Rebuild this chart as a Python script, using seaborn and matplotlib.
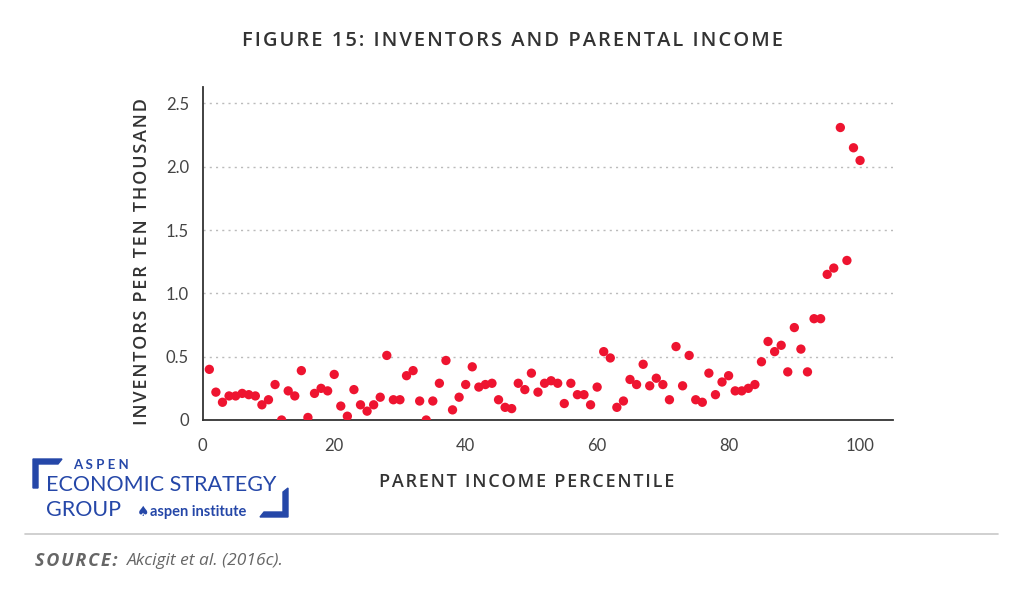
import numpy as np
import pandas as pd
import matplotlib.pyplot as plt
from matplotlib.patches import Polygon
import seaborn as sns

# parent income percentile and inventors per ten thousand
percentile = list(range(1, 101))
inventors = [
    0.40, 0.22, 0.14, 0.19, 0.19, 0.21, 0.20, 0.19, 0.12, 0.16,
    0.28, 0.00, 0.23, 0.19, 0.39, 0.02, 0.21, 0.25, 0.23, 0.36,
    0.11, 0.03, 0.24, 0.12, 0.07, 0.12, 0.18, 0.51, 0.16, 0.16,
    0.35, 0.39, 0.15, 0.00, 0.15, 0.29, 0.47, 0.08, 0.18, 0.28,
    0.42, 0.26, 0.28, 0.29, 0.16, 0.10, 0.09, 0.29, 0.24, 0.37,
    0.22, 0.29, 0.31, 0.29, 0.13, 0.29, 0.20, 0.20, 0.12, 0.26,
    0.54, 0.49, 0.10, 0.15, 0.32, 0.28, 0.44, 0.27, 0.33, 0.28,
    0.16, 0.58, 0.27, 0.51, 0.16, 0.14, 0.37, 0.20, 0.30, 0.35,
    0.23, 0.23, 0.25, 0.28, 0.46, 0.62, 0.54, 0.59, 0.38, 0.73,
    0.56, 0.38, 0.80, 0.80, 1.15, 1.20, 2.31, 1.26, 2.15, 2.05,
]
x_ticks = [0, 20, 40, 60, 80, 100]
y_ticks = [0, 0.5, 1.0, 1.5, 2.0, 2.5]
y_tick_labels = ['0', '0.5', '1.0', '1.5', '2.0', '2.5']

df = pd.DataFrame({'percentile': percentile, 'inventors': inventors})

sns.set_style("white")
plt.rcParams['font.family'] = ['Lato', 'DejaVu Sans']

blue = '#2547a8'
dark = '#333333'
head = ['Open Sans', 'DejaVu Sans']


def spaced(s, sp='\u200a'):
    # fake letter spacing with hair spaces
    return sp.join(s)


fig = plt.figure(figsize=(10.24, 6), dpi=100)
ax = fig.add_axes([0.198, 0.30, 0.674, 0.555])

ax.grid(axis='y', color='#bbbbbb', linestyle=(0, (1.5, 3)), linewidth=1)
sns.scatterplot(data=df, x='percentile', y='inventors', ax=ax,
                color='#ee1430', s=45, edgecolor='none', zorder=3)

ax.set_xlim(0, 105)
ax.set_ylim(0, 2.63)
ax.set_xticks(x_ticks)
ax.set_yticks(y_ticks)
ax.set_yticklabels(y_tick_labels)
ax.tick_params(axis='x', direction='out', length=7, width=1.3, color=dark,
               labelsize=12, labelcolor='#444444', pad=6)
ax.tick_params(axis='y', direction='in', length=10, width=1.3, color=dark,
               labelsize=12, labelcolor='#444444', pad=10)
for s in ['top', 'right']:
    ax.spines[s].set_visible(False)
for s in ['left', 'bottom']:
    ax.spines[s].set_color(dark)
    ax.spines[s].set_linewidth(1.3)

ax.set_xlabel(spaced('PARENT INCOME PERCENTILE'), fontsize=13,
              fontweight='semibold', color=dark, family=head)
ax.xaxis.set_label_coords(0.47, -0.16)
ax.set_ylabel(spaced('INVENTORS PER TEN THOUSAND'), fontsize=13,
              fontweight='semibold', color=dark, family=head)
ax.yaxis.set_label_coords(-0.075, 0.475)

fig.text(0.5, 0.932, spaced('FIGURE 15: INVENTORS AND PARENTAL INCOME'),
         ha='center', va='center', fontsize=14.5, fontweight='semibold',
         color=dark, family=head)

# logo
W, H = 1024, 600
def px(x, y):
    return (x / W, 1 - y / H)

fig.patches.append(Polygon([px(33, 459), px(62, 459), px(58, 464), px(38, 464),
                            px(38, 488), px(33, 488)],
                           closed=True, transform=fig.transFigure,
                           color=blue))
fig.patches.append(Polygon([px(288, 488), px(288, 517), px(260, 517),
                            px(264, 512), px(283, 512), px(283, 492)],
                           closed=True, transform=fig.transFigure,
                           color=blue))
fig.text(*px(73, 465), 'A S P E N', fontsize=9.5, fontweight='bold',
         color=blue, va='center', ha='left')
fig.text(*px(46, 485), 'ECONOMIC STRATEGY', fontsize=15.5,
         color=blue, va='center', ha='left')
fig.text(*px(46, 510), 'GROUP', fontsize=15.5,
         color=blue, va='center', ha='left')
fig.text(*px(137, 512), '\u2660', fontsize=10, color=blue, va='center',
         ha='left', family=['DejaVu Sans'])
fig.text(*px(150, 512), 'aspen institute', fontsize=10.5, fontweight='bold',
         color=blue, va='center', ha='left')

# footer
fig.add_artist(plt.Line2D([25 / W, 998 / W], [1 - 534 / H, 1 - 534 / H],
                          color='#c8c8c8', linewidth=1.2,
                          transform=fig.transFigure))
fig.text(*px(35, 561), spaced('SOURCE:'), fontsize=13, fontweight='bold',
         style='italic', color='#666666', va='center', ha='left', family=head)
fig.text(*px(127, 561), 'Akcigit et al. (2016c).', fontsize=12.5,
         style='italic', color='#666666', va='center', ha='left', family=head)

plt.savefig('out.png', dpi=100)
